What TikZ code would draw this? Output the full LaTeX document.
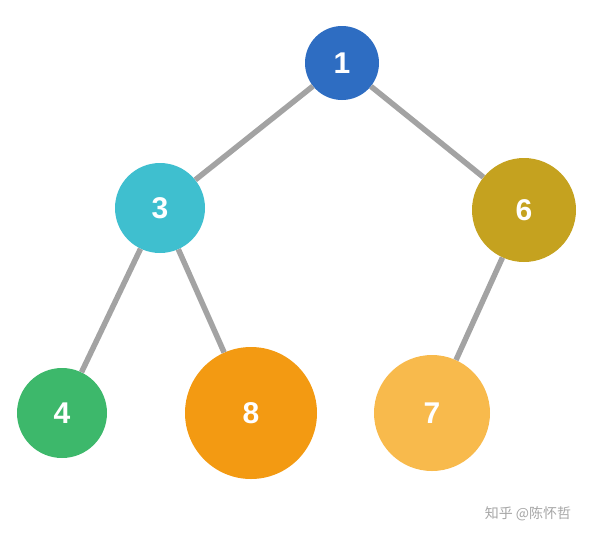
\documentclass[tikz,border=0pt]{standalone}
\usepackage{fontspec}
\setmainfont{Liberation Sans}
\newfontfamily\cjk{Noto Sans CJK SC}
\definecolor{cblue}{HTML}{2E6DC2}
\definecolor{ccyan}{HTML}{3FBFCF}
\definecolor{cgold}{HTML}{C5A21F}
\definecolor{cgreen}{HTML}{3DB86B}
\definecolor{corange}{HTML}{F39A12}
\definecolor{clight}{HTML}{F8BA4C}
\definecolor{cedge}{HTML}{A3A3A3}
\begin{document}
\begin{tikzpicture}[x=1pt,y=-1pt,
  nd/.style={circle,inner sep=0pt,text=white,font=\bfseries\fontsize{30}{30}\selectfont},
  ed/.style={draw=cedge,line width=5.5pt}]
\useasboundingbox (0,0) rectangle (600,539);
\node[nd,fill=cblue,minimum size=74pt] (n1) at (342,63) {1};
\node[nd,fill=ccyan,minimum size=90pt] (n3) at (160,208) {3};
\node[nd,fill=cgold,minimum size=104pt] (n6) at (524,210) {6};
\node[nd,fill=cgreen,minimum size=90pt] (n4) at (62,413) {4};
\node[nd,fill=corange,minimum size=132pt] (n8) at (251,413) {8};
\node[nd,fill=clight,minimum size=116pt] (n7) at (432,413) {7};
\begin{scope}[on background layer/.style={}]
\end{scope}
\begin{pgfonlayer}{main}\end{pgfonlayer}
\draw[ed] (n1) -- (n3);
\draw[ed] (n1) -- (n6);
\draw[ed] (n3) -- (n4);
\draw[ed] (n3) -- (n8);
\draw[ed] (n6) -- (n7);
\node[text=gray!70,font=\cjk\fontsize{14}{14}\selectfont] (wm) at (528,514) {知乎 @陈怀哲};
\end{tikzpicture}
\end{document}
